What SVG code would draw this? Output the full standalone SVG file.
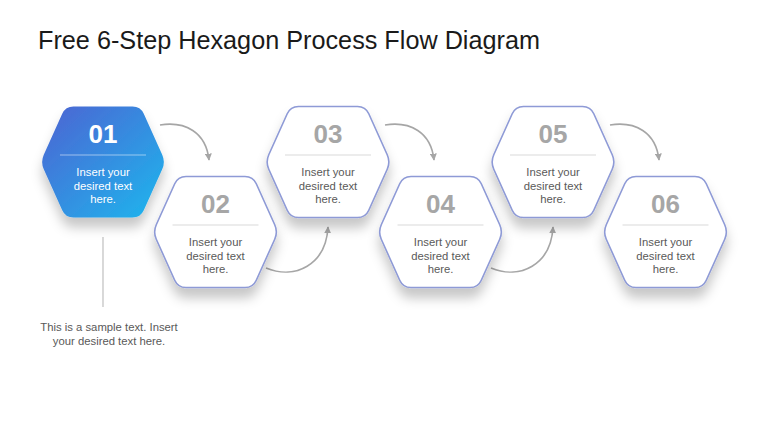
<svg xmlns="http://www.w3.org/2000/svg" width="768" height="432" viewBox="0 0 768 432">
<defs>
<style>
.title{font-family:"Liberation Sans",Arial,sans-serif;font-size:25px;fill:#1a1a1a}
.num{font-family:"Liberation Sans",Arial,sans-serif;font-size:26px;font-weight:bold;fill:#a6a6a6;text-anchor:middle}
.body{font-family:"Liberation Sans",Arial,sans-serif;font-size:11.3px;fill:#595959;text-anchor:middle}
.w .num,.w .body{fill:#ffffff}
.hex{fill:#ffffff;stroke:#8e9ad6;stroke-width:1.6}
.div{stroke:#d9d9d9;stroke-width:1}
.conn{fill:none;stroke:#a6a6a6;stroke-width:1.6}
</style>
<linearGradient id="g1" x1="0" y1="0" x2="1" y2="1">
<stop offset="0" stop-color="#4d63d2"/>
<stop offset="1" stop-color="#1db7ee"/>
</linearGradient>
<filter id="sh" x="-30%" y="-30%" width="160%" height="170%">
<feDropShadow dx="0" dy="10" stdDeviation="6" flood-color="#000" flood-opacity="0.22"/>
</filter>
<path id="hx" d="M -29.5,-55.5 L 29.5,-55.5 Q 37.5,-55.5 40.78,-48.21 L 59.22,-7.29 Q 62.5,0 59.22,7.29 L 40.78,48.21 Q 37.5,55.5 29.5,55.5 L -29.5,55.5 Q -37.5,55.5 -40.78,48.21 L -59.22,7.29 Q -62.5,0 -59.22,-7.29 L -40.78,-48.21 Q -37.5,-55.5 -29.5,-55.5 Z"/>
<marker id="ah" viewBox="0 0 10 10" refX="9" refY="5" markerWidth="7" markerHeight="7" orient="auto" markerUnits="userSpaceOnUse">
<path d="M0,0 L10,5 L0,10 Z" fill="#a6a6a6"/>
</marker>
</defs>
<rect width="768" height="432" fill="#ffffff"/>
<text class="title" x="38" y="49" textLength="502" lengthAdjust="spacingAndGlyphs">Free 6-Step Hexagon Process Flow Diagram</text>

<g id="connectors">
<path class="conn" d="M 160,125 C 185,121 206,132 209,160" marker-end="url(#ah)"/>
<path class="conn" d="M 266,268 C 295,280 326,265 328,227" marker-end="url(#ah)"/>
<path class="conn" d="M 385,125 C 410,121 431,132 434,160" marker-end="url(#ah)"/>
<path class="conn" d="M 491,268 C 520,280 551,265 553,227" marker-end="url(#ah)"/>
<path class="conn" d="M 610,125 C 635,121 656,132 659,160" marker-end="url(#ah)"/>
<line x1="103" y1="237" x2="103" y2="307" stroke="#bfbfbf" stroke-width="1.2"/>
</g>

<g id="node01" class="w" transform="translate(103,162)">
<use href="#hx" fill="url(#g1)" filter="url(#sh)"/>
<text class="num" x="0" y="-19">01</text>
<line x1="-43" y1="-7" x2="43" y2="-7" stroke="#ffffff" stroke-opacity="0.5" stroke-width="1"/>
<text class="body" x="0" y="14">Insert your</text>
<text class="body" x="0" y="27.5">desired text</text>
<text class="body" x="0" y="41">here.</text>
</g>

<g id="node02" transform="translate(215.5,232)">
<use href="#hx" class="hex" filter="url(#sh)"/>
<text class="num" x="0" y="-19">02</text>
<line class="div" x1="-43" y1="-7" x2="43" y2="-7"/>
<text class="body" x="0" y="14">Insert your</text>
<text class="body" x="0" y="27.5">desired text</text>
<text class="body" x="0" y="41">here.</text>
</g>

<g id="node03" transform="translate(328,162)">
<use href="#hx" class="hex" filter="url(#sh)"/>
<text class="num" x="0" y="-19">03</text>
<line class="div" x1="-43" y1="-7" x2="43" y2="-7"/>
<text class="body" x="0" y="14">Insert your</text>
<text class="body" x="0" y="27.5">desired text</text>
<text class="body" x="0" y="41">here.</text>
</g>

<g id="node04" transform="translate(440.5,232)">
<use href="#hx" class="hex" filter="url(#sh)"/>
<text class="num" x="0" y="-19">04</text>
<line class="div" x1="-43" y1="-7" x2="43" y2="-7"/>
<text class="body" x="0" y="14">Insert your</text>
<text class="body" x="0" y="27.5">desired text</text>
<text class="body" x="0" y="41">here.</text>
</g>

<g id="node05" transform="translate(553,162)">
<use href="#hx" class="hex" filter="url(#sh)"/>
<text class="num" x="0" y="-19">05</text>
<line class="div" x1="-43" y1="-7" x2="43" y2="-7"/>
<text class="body" x="0" y="14">Insert your</text>
<text class="body" x="0" y="27.5">desired text</text>
<text class="body" x="0" y="41">here.</text>
</g>

<g id="node06" transform="translate(665.5,232)">
<use href="#hx" class="hex" filter="url(#sh)"/>
<text class="num" x="0" y="-19">06</text>
<line class="div" x1="-43" y1="-7" x2="43" y2="-7"/>
<text class="body" x="0" y="14">Insert your</text>
<text class="body" x="0" y="27.5">desired text</text>
<text class="body" x="0" y="41">here.</text>
</g>

<g id="note">
<text class="body" x="109" y="331">This is a sample text. Insert</text>
<text class="body" x="109" y="345">your desired text here.</text>
</g>
</svg>
